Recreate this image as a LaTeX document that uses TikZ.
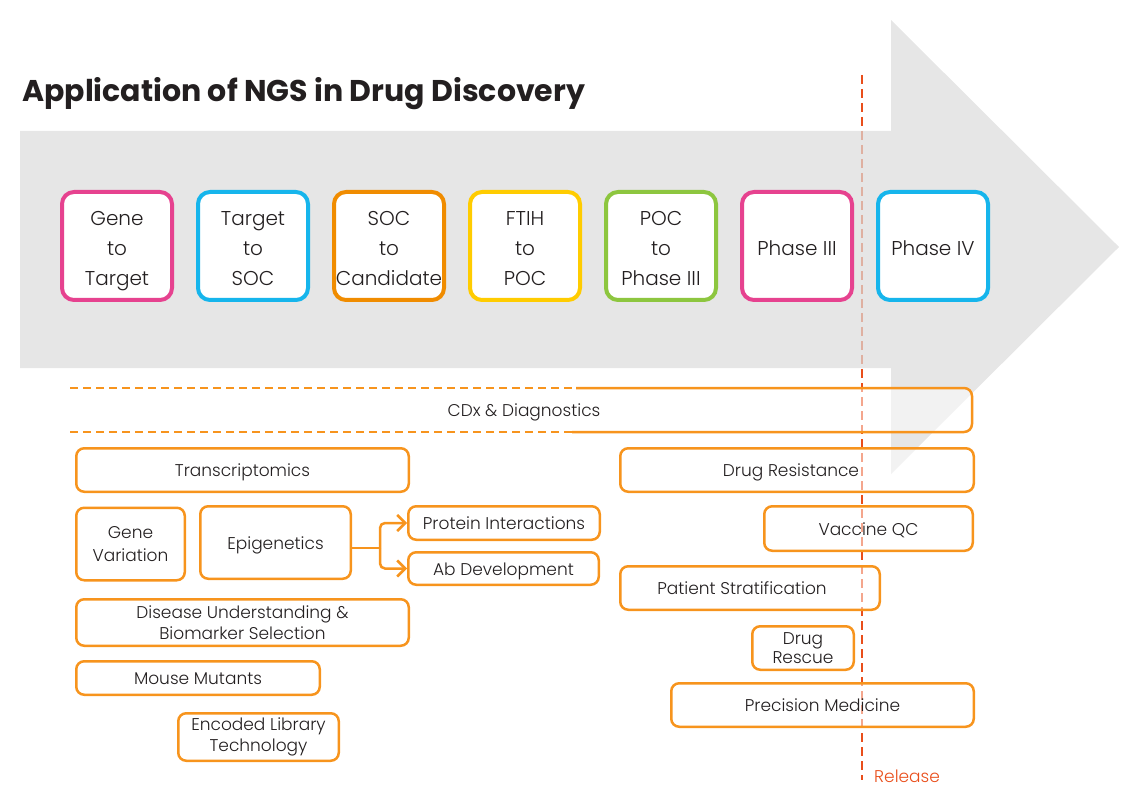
\documentclass[tikz,border=0pt]{standalone}
\usepackage{fontspec}
\setmainfont{Poppins}[UprightFont=* Light, BoldFont=* Bold]
\usetikzlibrary{arrows.meta}
\definecolor{pinkc}{HTML}{E6428F}
\definecolor{cyanc}{HTML}{16B5EC}
\definecolor{orangec}{HTML}{F08C00}
\definecolor{yellowc}{HTML}{FFCC00}
\definecolor{greenc}{HTML}{8DC63F}
\definecolor{boxor}{HTML}{F7941D}
\definecolor{relred}{HTML}{E94E1B}
\definecolor{arrowgray}{HTML}{DBDBDB}
\definecolor{txt}{HTML}{231F20}
\newcommand{\stxt}[1]{\raisebox{-4pt}[\height][\depth]{\begin{tabular}{@{}c@{}}#1\end{tabular}}}
\begin{document}
\begin{tikzpicture}[x=1pt,y=-1pt,
  stagebox/.style={draw=#1, line width=4pt, rounded corners=12pt, fill=white,
    minimum width=110pt, minimum height=108pt, inner sep=0pt, align=center,
    text=txt, font=\fontsize{20}{30}\selectfont},
  ob/.style={draw=boxor, line width=2.5pt, rounded corners=8pt, fill=white,
    fill opacity=0.5, text opacity=1, text=txt, align=center, inner sep=0pt,
    font=\fontsize{17}{21}\selectfont},
  one/.style={text height=16pt, text depth=3pt},
  relline/.style={draw=relred, line width=2.5pt, dash pattern=on 9pt off 5pt},
  conn/.style={draw=boxor, line width=2.5pt},
  tip/.style={-{Straight Barb[length=8pt,width=16pt,line width=2.5pt]}}
]
\useasboundingbox (0,0) rectangle (1140,799);

% release line (behind everything)
\coordinate (rtop) at (862,75);
\coordinate (rbot) at (862,780);
\draw[relline] (rtop) -- (rbot);
\node[anchor=base west, text=relred, font=\fontsize{17}{20}\selectfont, inner sep=0pt] (rel) at (874,782) {Release};

% big arrow
\fill[arrowgray, fill opacity=0.7] (20,131) -- (891,131) -- (891,20) -- (1119,247)
  -- (891,474) -- (891,368) -- (20,368) -- cycle;

% title
\node[anchor=base west, inner sep=0pt, text=txt, font=\fontsize{30}{32}\selectfont\bfseries] (title) at (22,102) {Application of NGS in Drug Discovery};

% stage boxes
\node[stagebox=pinkc]   (s1) at (117,246) {\stxt{Gene\\to\\Target}};
\node[stagebox=cyanc]   (s2) at (253,246) {\stxt{Target\\to\\SOC}};
\node[stagebox=orangec] (s3) at (389,246) {\stxt{SOC\\to\\Candidate}};
\node[stagebox=yellowc] (s4) at (525,246) {\stxt{FTIH\\to\\POC}};
\node[stagebox=greenc]  (s5) at (661,246) {\stxt{POC\\to\\Phase III}};
\node[stagebox=pinkc]   (s6) at (797,246) {\stxt{Phase III}};
\node[stagebox=cyanc]   (s7) at (933,246) {\stxt{Phase IV}};

% CDx & Diagnostics
\draw[conn, dash pattern=on 8pt off 5pt] (70,388) -- (578,388);
\draw[conn, dash pattern=on 8pt off 5pt] (70,432) -- (572,432);
\fill[white, fill opacity=0.5, rounded corners=8pt] (576,388) -- (972,388) -- (972,432) -- (576,432) -- cycle;
\draw[conn, rounded corners=8pt] (576,388) -- (972,388) -- (972,432) -- (572,432);
\node[text=txt, font=\fontsize{17}{20}\selectfont, inner sep=0pt, one] (cdx) at (524,410) {CDx \& Diagnostics};

% left column boxes
\node[ob, one, minimum width=332.5pt, minimum height=43.5pt] (trans) at (242.5,470) {Transcriptomics};
\node[ob, font=\fontsize{17}{23}\selectfont, minimum width=108.5pt, minimum height=72.5pt] (genevar) at (130.5,544) {Gene\\Variation};
\node[ob, one, minimum width=150.5pt, minimum height=72.5pt] (epi) at (275.5,542.5) {Epigenetics};
\node[ob, one, minimum width=191.5pt, minimum height=33.5pt] (prot) at (504,523) {Protein Interactions};
\node[ob, one, minimum width=190.5pt, minimum height=32.5pt] (abdev) at (503.5,568.5) {Ab Development};
\node[ob, minimum width=332.5pt, minimum height=46.5pt] (disease) at (242.5,622.5) {Disease Understanding \&\\Biomarker Selection};
\node[ob, one, minimum width=243.5pt, minimum height=33.5pt] (mouse) at (198,678) {Mouse Mutants};
\node[ob, minimum width=160.5pt, minimum height=47.5pt] (encoded) at (258.5,737) {Encoded Library\\Technology};

% connectors from Epigenetics
\coordinate (j) at (380,548);
\draw[conn] (epi.east |- j) -- (j);
\draw[conn, tip, rounded corners=5pt] (j) |- (prot.west);
\draw[conn, tip, rounded corners=5pt] (j) |- (abdev.west);

% right column boxes
\node[ob, one, minimum width=353.5pt, minimum height=43.5pt] (drugres) at (797,470) {Drug Resistance\hspace*{12pt}};
\node[ob, one, minimum width=208.5pt, minimum height=44.5pt] (vaccine) at (868.5,528.5) {Vaccine QC};
\node[ob, one, minimum width=259.5pt, minimum height=43.5pt] (patient) at (750,588) {Patient Stratification\hspace*{16pt}};
\node[ob, font=\fontsize{17}{19}\selectfont, minimum width=101.5pt, minimum height=43.5pt] (rescue) at (803,648) {Drug\\Rescue};
\node[ob, one, minimum width=302.5pt, minimum height=43.5pt] (precision) at (822.5,705) {Precision Medicine};
\end{tikzpicture}
\end{document}
